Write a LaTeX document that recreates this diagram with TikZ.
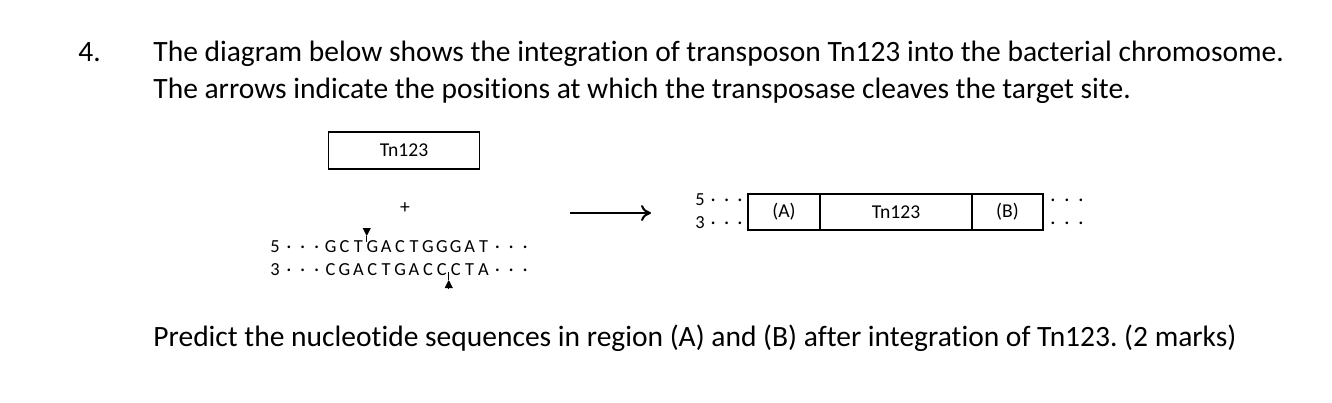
\documentclass[tikz,border=0pt]{standalone}
\usepackage{fontspec}
\setmainfont{Carlito}[Ligatures=NoCommon]
\usetikzlibrary{arrows.meta,positioning,calc}
\frenchspacing

\begin{document}
\begin{tikzpicture}[x=0.5pt,y=-0.5pt,
  question/.style={anchor=base west,inner sep=0pt,font=\fontsize{14.75}{18}\selectfont},
  seq/.style={anchor=base,inner sep=0pt,font=\fontsize{9.2}{11}\selectfont},
  region/.style={draw,line width=0.7pt,outer sep=0pt,inner sep=0pt,minimum height=18pt,font=\fontsize{9.8}{12}\selectfont},
  cut/.style={-{Triangle[length=4pt,width=4pt]},line width=0.5pt},
  stem/.style={line width=0.5pt}]
\useasboundingbox (0,0) rectangle (1332,402);
% question text
\node[question] (num) at (78,61) {4.};
\node[question] (line1) at (153,61) {The diagram below shows the integration of transposon Tn123 into the bacterial chromosome.};
\node[question] (line2) at (153,98) {The arrows indicate the positions at which the transposase cleaves the target site.};
\node[question] (ask) at (153,346) {Predict the nucleotide sequences in region (A) and (B) after integration of Tn123. (2 marks)};
% free transposon and target site
\node[region,minimum width=75.5pt,minimum height=18.5pt] (tnfree) at (404,150.5) {Tn123};
\node[font=\fontsize{9.8}{12}\selectfont] (plus) at (405,208) {+};
\foreach \c [count=\i] in {5,·,·,·,G,C,T,G,A,C,T,G,G,G,A,T,·,·,·}
  \node[seq] (top\i) at (261.1+13.9*\i,252) {\c};
\foreach \c [count=\i] in {3,·,·,·,C,G,A,C,T,G,A,C,C,C,T,A,·,·,·}
  \node[seq] (bot\i) at (261.1+13.9*\i,275) {\c};
% cleavage positions
\coordinate (cutT) at ($(top7.base)!0.6!(top8.base)$);
\draw[cut] ($(cutT)+(0,-24)$) -- ($(cutT)+(0,-16)$);
\draw[stem] ($(cutT)+(0,-16)$) -- ($(cutT)+(0,-10)$);
\coordinate (cutB) at ($(bot13.base)!0.5!(bot14.base)$);
\draw[cut] ($(cutB)+(0,13)$) -- ($(cutB)+(0,5)$);
\draw[stem] ($(cutB)+(0,5)$) -- ($(cutB)+(0,-3)$);
% reaction arrow
\coordinate (arrS) at (570,213);
\coordinate (arrE) at (651,213);
\draw[-{To[length=5pt,width=8pt]},line width=1pt] (arrS) -- (arrE);
% integrated transposon
\node[region,minimum width=36pt] (regA) at (784,212) {(A)};
\node[region,minimum width=76pt,right=0pt of regA] (tnins) {Tn123};
\node[region,minimum width=35.5pt,right=0pt of tnins] (regB) {(B)};
\foreach \c [count=\i] in {5,·,·,·}
  \node[seq] (lt\i) at (686.7+13.3*\i,205) {\c};
\foreach \c [count=\i] in {3,·,·,·}
  \node[seq] (lb\i) at (686.7+13.3*\i,228) {\c};
\foreach \i in {1,2,3} {
  \node[seq] (rt\i) at (1039+14*\i,205) {·};
  \node[seq] (rb\i) at (1039+14*\i,228) {·};
}
\end{tikzpicture}
\end{document}
